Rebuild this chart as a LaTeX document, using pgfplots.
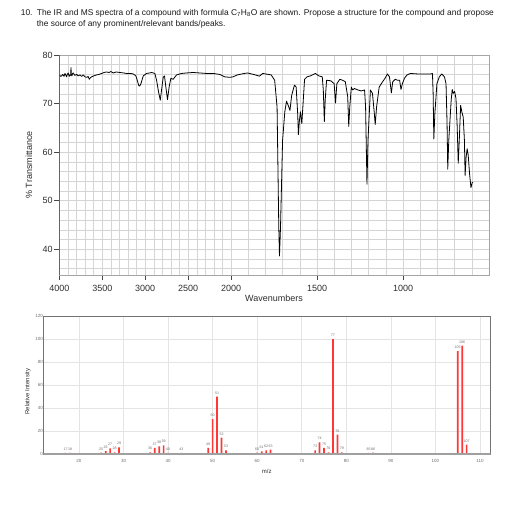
\documentclass[border=0pt]{standalone}
\usepackage{fontspec}
\setmainfont{Liberation Sans}
\usepackage{pgfplots}
\pgfplotsset{compat=1.18}
\usepackage{pgfplotstable}
\definecolor{titlecol}{RGB}{25,25,25}
\definecolor{irgrid}{RGB}{212,212,212}
\definecolor{irframe}{RGB}{165,165,165}
\definecolor{irdark}{RGB}{70,70,70}
\definecolor{irlab}{RGB}{45,45,45}
\definecolor{msgrid}{RGB}{228,228,228}
\definecolor{msframe}{RGB}{115,115,115}
\definecolor{msbase}{RGB}{160,160,160}
\definecolor{mslab}{RGB}{110,110,110}
\definecolor{msred}{RGB}{255,55,55}

\pgfplotstableread{
wn T
4000 75.9
3985 75.6
3973 75.7
3960 76.0
3945 75.6
3934 76.2
3915 75.5
3905 76.1
3896 76.3
3885 75.6
3876 75.9
3868 75.8
3864 77.4
3860 76.0
3853 75.7
3845 76.2
3837 76.3
3820 75.8
3798 76.0
3780 75.7
3760 75.9
3740 75.6
3720 75.9
3702 75.5
3680 75.4
3665 75.6
3651 75.0
3640 75.3
3624 75.5
3600 75.7
3566 75.9
3540 76.0
3508 76.2
3480 76.4
3450 76.5
3420 76.4
3400 76.6
3372 76.3
3340 76.5
3295 76.4
3250 76.3
3217 76.2
3170 76.2
3140 76.1
3109 75.7
3093 74.8
3075 73.7
3065 73.6
3050 74.1
3035 75.0
3023 75.7
2985 76.2
2950 76.3
2926 76.4
2888 76.2
2868 74.8
2845 72.4
2825 70.7
2810 72.8
2791 75.4
2776 75.7
2760 73.4
2741 70.8
2722 73.4
2702 75.2
2675 75.0
2636 75.9
2578 76.2
2520 76.3
2443 76.4
2365 76.3
2288 76.2
2210 76.2
2132 76.0
2074 75.5
2016 75.4
1990 75.5
1964 75.9
1924 76.2
1905 76.3
1870 76.0
1836 75.65
1816 76.2
1767 75.9
1747 74.8
1733 69.3
1723 44.5
1719 38.6
1713 44.5
1701 62.4
1688 68.3
1678 70.5
1668 69.6
1658 68.6
1648 71.7
1632 73.8
1622 73.4
1613 67.9
1609 63.6
1603 66.5
1597 68.3
1589 65.9
1583 69.3
1573 75.0
1559 75.5
1539 75.7
1510 76.2
1490 75.7
1470 75.5
1464 72.8
1458 66.3
1453 70.7
1445 74.8
1421 74.7
1401 74.1
1393 70.1
1385 74.1
1368 75.0
1352 74.8
1336 74.5
1322 71.4
1316 65.3
1310 69.3
1301 73.4
1293 72.8
1283 73.1
1263 72.8
1243 72.6
1224 72.8
1218 69.3
1210 53.4
1204 62.4
1190 72.8
1178 72.1
1168 68.3
1162 65.7
1154 69.3
1139 73.4
1119 74.5
1105 75.2
1091 76.1
1079 75.5
1068 72.2
1060 74.5
1046 75.0
1032 74.8
1020 74.8
1012 72.9
1004 74.1
992 75.2
977 75.9
957 76.2
917 76.1
878 76.1
838 76.1
829 76.2
825 72.1
821 62.7
815 67.9
803 74.1
789 75.5
775 76.1
759 75.5
750 74.1
744 65.9
740 56.5
734 62.4
720 70.7
714 72.9
708 72.1
700 72.5
692 71.0
685 65.2
679 57.7
673 62.4
665 69.6
658 68.3
650 67.2
643 62.4
639 55.2
633 59.0
627 60.7
621 59.4
613 55.5
605 52.7
597 53.8
592 53.8
}\irdata

\pgfplotstableread{
mz I
17 0.9
18 1.0
25 1.2
26 2.6
27 5.0
28 1.5
29 5.8
36 1.5
37 5.3
38 6.7
39 7.6
40 0.9
43 0.9
49 5.3
50 30.4
51 50.0
52 14.3
53 3.2
60 1.2
61 2.3
62 3.2
63 3.8
73 3.2
74 10.2
75 5.3
76 1.5
77 100
78 16.9
79 1.5
85 0.9
86 1.2
105 89.4
106 94.3
107 8.2
}\msdata

\begin{document}
\begin{tikzpicture}
\useasboundingbox (0pt,0pt) rectangle (516pt,517pt);
\node[anchor=base west, inner sep=0pt, font=\fontsize{8.4}{9}\selectfont, text=titlecol] at (20.7pt,501.5pt) {10.};
\node[anchor=base west, inner sep=0pt, font=\fontsize{8.4}{9}\selectfont, text=titlecol] at (36.7pt,501.5pt) {The IR and MS spectra of a compound with formula C\textsubscript{7}H\textsubscript{8}O are shown. Propose a structure for the compound and propose};
\node[anchor=base west, inner sep=0pt, font=\fontsize{8.4}{9}\selectfont, text=titlecol] at (36.7pt,490.5pt) {the source of any prominent/relevant bands/peaks.};

\begin{axis}[
  at={(59.3pt,242pt)}, anchor=south west, scale only axis,
  width=429.7pt, height=220pt,
  xmin=0, xmax=5000, ymin=34.7, ymax=80,
  xtick={0,500,1000,1500,2000,3000,4000},
  xticklabels={4000,3500,3000,2500,2000,1500,1000},
  minor xtick={100,200,300,400,600,700,800,900,1100,1200,1300,1400,1600,1700,1800,1900,2200,2400,2600,2800,3200,3400,3600,3800,4200,4400,4600,4800},
  ytick={40,50,60,70,80},
  minor ytick={36,38,42,44,46,48,52,54,56,58,62,64,66,68,72,74,76,78},
  grid=both,
  major grid style={draw=irgrid, line width=0.5pt},
  minor grid style={draw=irgrid, line width=0.5pt},
  axis line style={draw=irframe, line width=0.6pt},
  tick align=outside, xtick pos=left, ytick pos=left,
  major tick length=5pt, minor tick length=0pt,
  tick style={draw=irdark, line width=0.6pt},
  ticklabel style={font=\fontsize{9}{10}\selectfont, text=irlab},
  yticklabel style={inner sep=1.5pt},
  xticklabel style={inner sep=2pt, yshift=-3.5pt},
  /pgf/number format/assume math mode=true,
]
\addplot[black, line width=0.8pt, line join=round] table[x expr={ifthenelse(\thisrow{wn}>=2000,4000-\thisrow{wn},6000-2*\thisrow{wn})}, y=T] {\irdata};
\draw[irdark, line width=0.8pt] (rel axis cs:0,1) -- (rel axis cs:0,0) -- (rel axis cs:1,0);
\end{axis}
\node[rotate=90, font=\fontsize{9}{10}\selectfont, text=irlab] at (29pt,352pt) {\% Transmittance};
\node[font=\fontsize{9}{10}\selectfont, text=irlab] at (274pt,219pt) {Wavenumbers};

\begin{axis}[
  at={(43.3pt,63pt)}, anchor=south west, scale only axis,
  width=447.4pt, height=138pt,
  xmin=12, xmax=112.4, ymin=0, ymax=120,
  xtick={20,30,...,110}, ytick={0,20,...,120},
  grid=major,
  major grid style={draw=msgrid, line width=0.6pt},
  major tick length=0pt,
  axis line style={draw=msframe, line width=0.6pt},
  ticklabel style={font=\fontsize{4.5}{5}\selectfont, text=mslab},
  xticklabel style={yshift=-2pt},
  yticklabel style={xshift=3pt},
  /pgf/number format/assume math mode=true,
  ybar, bar width=1.7pt,
  point meta=x,
  nodes near coords={\makebox[0pt][c]{\pgfmathprintnumber[assume math mode=true]{\pgfplotspointmeta}}},
  every node near coord/.append style={font=\fontsize{3.6}{4}\selectfont, text=mslab, inner sep=0pt, anchor=south, yshift=2.2pt},
]
\addplot[fill=msred, draw=none] table[x=mz, y=I] {\msdata};
\draw[msbase, line width=1.6pt] (rel axis cs:0,0) -- (rel axis cs:1,0);
\end{axis}
\node[rotate=90, font=\fontsize{6}{7}\selectfont, text=irlab] at (27.7pt,125.3pt) {Relative Intensity};
\node[font=\fontsize{6}{7}\selectfont, text=irlab] at (266.7pt,45.3pt) {m/z};
\end{tikzpicture}
\end{document}
